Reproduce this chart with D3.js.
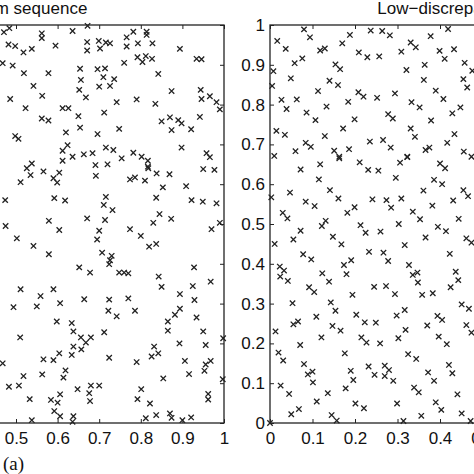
<!DOCTYPE html>
<html>
<head>
<meta charset="utf-8">
<script src="https://cdn.jsdelivr.net/npm/d3@7"></script>
<style>
body { margin: 0; background: #fff; }
</style>
</head>
<body>
<div id="container"></div>
<script>
var w = 474;
var h = 474;

// random sequence (left panel)
var randX = [.471,.484,.562,.562,.636,.672,.482,.498,.518,.538,.595,.671,.671,.699,.702,.716,.726,.766,.766,.782,.814,.814,.793,.828,.894,.468,.492,.519,.578,.654,.656,.696,.714,.710,.736,.700,.726,.652,.668,.542,.563,.486,.523,.612,.626,.650,.712,.742,.790,.835,.842,.760,.792,.804,.812,.827,.934,.946,.874,.944,.946,.966,.982,.990,.942,.850,.870,.890,.898,.874,.921,.562,.578,.498,.506,.620,.654,.696,.748,.624,.612,.636,.663,.684,.716,.734,.782,.754,.802,.898,.958,.966,
 .538,.526,.535,.566,.604,.590,.599,.511,.692,.691,.720,.817,.818,.838,.869,.774,.786,.810,.950,.977,.909,.853,.837,.922,.949,.982,.474,.592,.618,.716,.711,.732,.845,.873,.830,.990,.970,.475,.579,.604,.671,.714,.700,.774,.800,.695,.502,.542,.579,.837,.820,.707,.730,.726,.724,.652,.678,.748,.760,.770,.843,.928,.968,.925,.850,.511,.590,.612,.817,
 .494,.550,.559,.606,.664,.724,.770,.722,.742,.786,.894,.929,.894,.882,.865,.865,.934,.950,.998,.956,.893,.598,.634,.638,.510,.712,.656,.668,.680,.638,.657,.604,.634,.566,.590,.724,.790,.832,.842,.826,.906,.968,.956,.953,.916,.468,.518,.563,.619,.614,.854,.997,.483,.507,.648,.680,.700,.676,.606,.533,.584,.600,.678,.792,.801,.822,.962,.962,.592,.606,.638,.538,.636,.812,.837,.870,.874,.900,.921];
var randY = [.982,.992,.979,.967,.985,.998,.951,.947,.931,.940,.948,.957,.936,.960,.941,.956,.954,.969,.946,.983,.983,.975,.954,.954,.940,.904,.898,.879,.879,.890,.862,.889,.891,.869,.864,.845,.847,.837,.818,.847,.822,.814,.791,.791,.791,.771,.780,.806,.813,.802,.877,.905,.919,.907,.922,.915,.915,.914,.834,.837,.814,.821,.806,.788,.769,.758,.768,.761,.753,.736,.738,.765,.760,.721,.714,.730,.742,.726,.739,.698,.684,.669,.675,.678,.692,.686,.679,.665,.669,.692,.678,.668,
 .652,.640,.623,.632,.629,.615,.604,.605,.621,.648,.650,.644,.640,.627,.625,.612,.617,.609,.638,.636,.595,.592,.566,.560,.556,.552,.560,.565,.559,.568,.548,.535,.525,.513,.503,.503,.487,.495,.508,.485,.514,.510,.483,.487,.470,.461,.464,.445,.424,.450,.443,.428,.420,.409,.399,.391,.378,.378,.378,.376,.368,.391,.355,.344,.342,.336,.336,.659,.659,
 .291,.293,.319,.301,.311,.310,.313,.282,.268,.282,.324,.309,.287,.272,.255,.232,.265,.230,.213,.196,.200,.255,.251,.230,.215,.228,.215,.202,.215,.192,.185,.175,.171,.160,.158,.164,.153,.192,.175,.167,.156,.156,.147,.131,.123,.150,.118,.122,.132,.114,.112,.110,.091,.094,.085,.094,.094,.075,.072,.060,.058,.051,.055,.060,.085,.049,.073,.059,.030,.017,.017,.007,.003,.012,.020,.024,.013,.007,.014];

// low-discrepancy sequence (right panel)
var ldX = [.080,.094,.017,.037,.008,.005,.049,.058,.076,.118,.129,.170,.188,.237,.264,.282,.209,.229,.257,.309,.331,.343,.378,.419,.399,.411,.433,.364,.321,.362,.390,.408,.455,.464,.458,.476,.294,.333,.352,.252,.220,.208,.184,.160,.154,.165,.140,.113,.133,.086,.107,.063,.027,.039,.015,.035,.060,.084,.096,.129,.151,.163,.172,.186,.199,.235,.266,.284,.278,.289,.331,.341,.323,.366,.375,.379,.429,.448,.434,.417,.456,.474,.010,
 .072,.118,.115,.163,.211,.231,.255,.296,.306,.323,.400,.412,.386,.405,.003,.047,.084,.105,.141,.161,.182,.199,.241,.274,.285,.309,.336,.361,.353,.382,.395,.414,.431,.455,.466,.444,.030,.041,.072,.055,.011,.122,.131,.148,.168,.213,.225,.260,.303,.317,.366,.462,.474,.078,.097,.123,.139,.174,.180,.191,.233,.267,.278,.327,.336,.347,.348,.423,.437,.443,.023,.033,.024,.042,.092,.245,.273,.425,
 .104,.053,.055,.066,.013,.020,.031,.025,.045,.050,.068,.071,.080,.089,.100,.101,.110,.109,.121,.143,.154,.147,.166,.136,.145,.157,.176,.178,.190,.196,.194,.203,.215,.227,.223,.249,.232,.246,.221,.201,.259,.270,.280,.270,.290,.299,.294,.298,.317,.319,.302,.325,.344,.339,.350,.314,.358,.370,.372,.386,.390,.403,.356,.383,.394,.405,.397,.416,.421,.429,.441,.451,.462,.474,.468,.451,.472,0];
var ldY = [.989,.969,.960,.940,.884,.847,.866,.904,.916,.936,.941,.954,.975,.986,.985,.974,.931,.919,.921,.933,.956,.944,.972,.990,.935,.915,.939,.900,.887,.862,.835,.814,.864,.843,.905,.885,.828,.806,.793,.817,.820,.831,.807,.849,.901,.889,.860,.834,.795,.780,.761,.813,.812,.789,.734,.724,.683,.704,.694,.721,.684,.669,.740,.688,.763,.707,.711,.692,.776,.765,.740,.719,.669,.686,.692,.760,.778,.793,.726,.704,.682,.669,.671,
 .637,.650,.612,.665,.655,.636,.634,.616,.654,.668,.652,.640,.611,.600,.567,.579,.556,.545,.585,.564,.528,.542,.562,.560,.541,.564,.531,.584,.512,.546,.493,.482,.559,.585,.570,.513,.528,.514,.483,.461,.450,.495,.508,.468,.449,.497,.478,.481,.500,.447,.466,.464,.453,.424,.411,.376,.355,.397,.374,.409,.430,.428,.407,.397,.372,.378,.353,.425,.380,.359,.393,.383,.368,.357,.341,.342,.344,.341,
 .329,.301,.248,.255,.230,.177,.157,.094,.073,.022,.035,.196,.148,.122,.129,.102,.054,.267,.215,.303,.282,.244,.232,.075,.020,.006,.175,.087,.131,.108,.322,.272,.215,.202,.253,.252,.142,.121,.037,.049,.200,.144,.133,.118,.106,.049,.324,.270,.284,.234,.213,.173,.161,.089,.077,.005,.322,.245,.127,.106,.052,.033,.018,.326,.269,.259,.217,.198,.146,.125,.072,.298,.246,.227,.287,.024,.005,0];

var xTicks = [0, 0.1, 0.2, 0.3, 0.4, 0.5, 0.6, 0.7, 0.8, 0.9, 1];
var yTicks = [0, 0.1, 0.2, 0.3, 0.4, 0.5, 0.6, 0.7, 0.8, 0.9, 1];
var titles = ["Random sequence", "Low\u2212discrepancy sequence"];

var svg = d3.select("#container")
            .append("svg")
            .attr("width", w)
            .attr("height", h)
            .style("font-family", "'Liberation Sans', Arial, sans-serif");

var y = d3.scaleLinear().domain([0, 1]).range([423, 25]);
var xLeft = d3.scaleLinear().domain([0, 1]).range([-192, 224]);
var xRight = d3.scaleLinear().domain([0, 1]).range([270, 695]);

var cross = "M-2.7,-2.7L2.7,2.7M-2.7,2.7L2.7,-2.7";

function panel(x, xs, ys, title, yLabels) {
    var g = svg.append("g");

    g.append("rect")
        .attr("x", x(0)).attr("y", y(1))
        .attr("width", x(1) - x(0)).attr("height", y(0) - y(1))
        .attr("fill", "none").attr("stroke", "#222").attr("stroke-width", 1.3);

    var bottom = d3.axisBottom(x).tickValues(xTicks).tickSizeInner(-4).tickSizeOuter(0).tickPadding(9)
        .tickFormat(d3.format("~g"));
    var gb = g.append("g").attr("transform", "translate(0," + y(0) + ")").call(bottom);
    var gt = g.append("g").attr("transform", "translate(0," + y(1) + ")")
        .call(d3.axisTop(x).tickValues(xTicks).tickSizeInner(-4).tickSizeOuter(0).tickFormat(""));
    var gl = g.append("g").attr("transform", "translate(" + x(0) + ",0)")
        .call(d3.axisLeft(y).tickValues(yTicks).tickSizeInner(-4).tickSizeOuter(0).tickPadding(5)
            .tickFormat(yLabels ? d3.format("~g") : ""));
    var gr = g.append("g").attr("transform", "translate(" + x(1) + ",0)")
        .call(d3.axisRight(y).tickValues(yTicks).tickSizeInner(-4).tickSizeOuter(0).tickFormat(""));

    [gb, gt, gl, gr].forEach(function(a) {
        a.select(".domain").remove();
        a.selectAll("line").attr("stroke", "#222");
        a.selectAll("text").attr("font-size", 17).attr("fill", "#111")
            .style("font-family", "'Liberation Sans', Arial, sans-serif");
    });

    g.selectAll("path.pt")
        .data(d3.range(xs.length))
        .enter()
        .append("path")
        .attr("class", "pt")
        .attr("transform", function(i) { return "translate(" + x(xs[i]) + "," + y(ys[i]) + ")"; })
        .attr("d", cross)
        .attr("stroke", "#222")
        .attr("stroke-width", 1.3)
        .attr("fill", "none");

    g.append("text")
        .attr("x", (x(0) + x(1)) / 2)
        .attr("y", 14)
        .attr("text-anchor", "middle")
        .attr("font-size", 17)
        .attr("fill", "#111")
        .text(title);
}

panel(xLeft, randX, randY, titles[0], false);
panel(xRight, ldX, ldY, titles[1], true);

svg.append("text")
    .attr("x", 3).attr("y", 470)
    .attr("font-size", 19)
    .attr("font-family", "'Liberation Serif', 'Times New Roman', serif")
    .attr("fill", "#111")
    .text("(a)");
</script>
</body>
</html>
